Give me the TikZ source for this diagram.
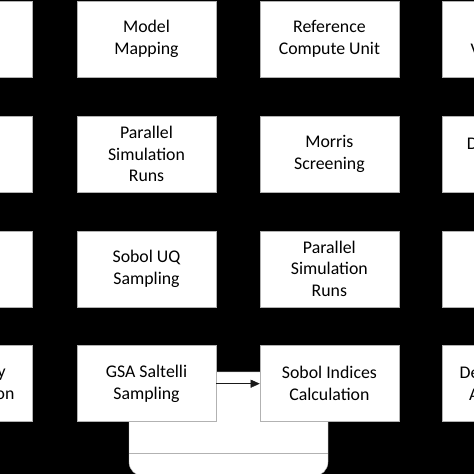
\documentclass[tikz,border=0pt]{standalone}
\usepackage{fontspec}
\setmainfont{Carlito}
\usetikzlibrary{positioning, arrows.meta}

\begin{document}
\begin{tikzpicture}[x=1pt, y=1pt,
		stage/.style={draw=gray!60, fill=white, rectangle, align=center, minimum width=139pt, minimum height=76pt, inner sep=1pt, font=\fontsize{17.8pt}{21.7pt}\selectfont}]
			\useasboundingbox (0,0) rectangle (474,474);
			\clip (0,0) rectangle (474,474);
			\fill[black] (0,0) rectangle (474,474);
			% white panel under the last row
			\draw[draw=gray!60, fill=white, rounded corners=14pt] (129,102) rectangle (328,-2);
			\draw[gray!60] (129,21) -- (328,21);
			% row 1
			\node (mapping) [stage] at (146.5,435) {Model\\Mapping};
			\node (blankA) [stage, left=44pt of mapping] {};
			\node (refunit) [stage, right=43.5pt of mapping] {Reference\\Compute Unit};
			\node (verif) [stage, right=43pt of refunit] {Model\\Verification};
			% row 2
			\node (blankB) [stage, below=38.5pt of blankA] {};
			\node (parrunsA) [stage, below=38.5pt of mapping] {Parallel\\Simulation\\Runs};
			\node (morris) [stage, below=38.5pt of refunit] {Morris\\Screening};
			\node (dimred) [stage, below=38.5pt of verif] {Dimensional\\Reduction};
			% row 3
			\node (blankC) [stage, below=38.5pt of blankB] {};
			\node (sobolUQ) [stage, below=38.5pt of parrunsA] {Sobol UQ\\Sampling};
			\node (parrunsB) [stage, below=38.5pt of morris] {Parallel\\Simulation\\Runs};
			\node (blankD) [stage, below=38.5pt of dimred] {};
			% row 4
			\node (uq) [stage, below=38.5pt of blankC] {Uncertainty\\Quantification};
			\node (saltelli) [stage, below=38.5pt of sobolUQ] {GSA Saltelli\\Sampling};
			\node (indices) [stage, below=38.5pt of parrunsB] {Sobol Indices\\Calculation};
			\node (margin) [stage, below=38.5pt of blankD] {Design Margin\\Assessment};
			\draw [-{Triangle[length=9pt, width=8pt]}, black!90] (saltelli) -- (indices);
		\end{tikzpicture}
\end{document}
